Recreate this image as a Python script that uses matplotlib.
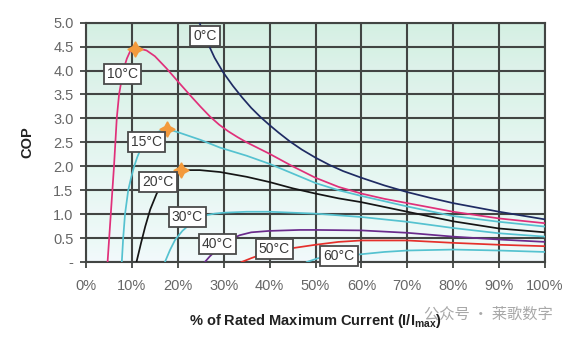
import numpy as np
import matplotlib
matplotlib.use("Agg")
import matplotlib.pyplot as plt

# ---------------- data ----------------
x_ticks = [0, 10, 20, 30, 40, 50, 60, 70, 80, 90, 100]
x_tick_labels = ["0%", "10%", "20%", "30%", "40%", "50%", "60%", "70%", "80%", "90%", "100%"]
y_ticks = [0, 0.5, 1.0, 1.5, 2.0, 2.5, 3.0, 3.5, 4.0, 4.5, 5.0]
y_tick_labels = ["-", "0.5", "1.0", "1.5", "2.0", "2.5", "3.0", "3.5", "4.0", "4.5", "5.0"]

x_0c = [24.7, 25.5, 26.6, 28, 29.9, 32, 34, 36, 38, 40, 42, 44.4, 47, 50, 53, 56, 60, 65, 70, 75, 80, 85, 90, 95, 100]
y_0c = [5.0, 4.82, 4.56, 4.27, 3.96, 3.68, 3.44, 3.22, 3.03, 2.86, 2.70, 2.52, 2.35, 2.18, 2.03, 1.90, 1.76, 1.60, 1.46, 1.34, 1.23, 1.14, 1.05, 0.97, 0.89]

x_10c = [4.7, 5.4, 6.1, 6.7, 7.2, 8.1, 8.9, 9.6, 10.7, 12.0, 13.2, 15, 17.5, 20.5, 23, 25, 27, 29, 31, 33, 35, 40, 45, 50, 55, 60, 65, 70, 80, 90, 100]
y_10c = [0, 1.0, 2.0, 3.0, 3.5, 4.0, 4.25, 4.4, 4.45, 4.45, 4.42, 4.3, 4.05, 3.72, 3.45, 3.24, 3.04, 2.87, 2.73, 2.61, 2.5, 2.26, 2.0, 1.76, 1.57, 1.43, 1.32, 1.23, 1.05, 0.91, 0.81]

x_15c = [7.8, 8.1, 8.5, 9.2, 9.8, 10.5, 11.2, 12.1, 14, 16, 17.7, 20.1, 25, 29.2, 35, 40, 45, 50, 55, 60, 65, 70, 80, 90, 100]
y_15c = [0, 0.5, 1.0, 1.5, 1.75, 2.0, 2.2, 2.4, 2.62, 2.73, 2.78, 2.71, 2.55, 2.39, 2.22, 2.05, 1.85, 1.65, 1.5, 1.38, 1.27, 1.16, 0.96, 0.84, 0.74]

x_20c = [11.0, 12.0, 12.9, 14, 15.4, 17, 19, 20.8, 24.8, 29.2, 35, 40, 45, 50, 55, 60, 65, 70, 80, 90, 100]
y_20c = [0, 0.4, 0.74, 1.1, 1.43, 1.68, 1.85, 1.92, 1.92, 1.88, 1.78, 1.67, 1.54, 1.43, 1.33, 1.25, 1.15, 1.05, 0.85, 0.70, 0.62]

x_30c = [17.2, 18.3, 19.4, 21, 23, 24.5, 26.3, 28, 30, 35, 40, 50, 60, 70, 80, 90, 100]
y_30c = [0, 0.25, 0.46, 0.65, 0.82, 0.92, 0.98, 1.01, 1.03, 1.05, 1.05, 1.01, 0.94, 0.84, 0.71, 0.60, 0.53]

x_40c = [25.9, 27, 29, 31, 33.5, 36, 40, 46.6, 50, 60, 70, 80, 90, 100]
y_40c = [0, 0.12, 0.3, 0.45, 0.56, 0.62, 0.65, 0.67, 0.67, 0.66, 0.61, 0.53, 0.47, 0.42]

x_50c = [33.9, 36, 38, 41, 45, 50, 55, 60, 70, 80, 90, 100]
y_50c = [0, 0.08, 0.15, 0.22, 0.29, 0.36, 0.42, 0.45, 0.45, 0.40, 0.36, 0.33]

x_60c = [48.1, 50.6, 53, 56, 59.7, 65, 70, 80, 90, 100]
y_60c = [0, 0.08, 0.11, 0.13, 0.16, 0.21, 0.24, 0.26, 0.24, 0.21]

curve_names = ["0°C", "10°C", "15°C", "20°C", "30°C", "40°C", "50°C", "60°C"]
label_x = [25.9, 7.95, 13.2, 15.7, 22.1, 28.6, 41.0, 55.1]
label_y = [4.73, 3.92, 2.5, 1.67, 0.94, 0.375, 0.27, 0.125]

peak_x = [10.7, 17.7, 20.8]
peak_y = [4.45, 2.78, 1.92]

# ---------------- styling ----------------
plt.rcParams['font.family'] = ['Liberation Sans', 'DejaVu Sans']
plt.rcParams['mathtext.fontset'] = 'custom'
plt.rcParams['mathtext.bf'] = 'Liberation Sans:bold'
plt.rcParams['mathtext.rm'] = 'Liberation Sans'

grid_c = "#424543"
colors = ["#1f2b63", "#e0307a", "#55c2d0", "#151515", "#55c2d0", "#6a2a8c", "#e5302b", "#55c2d0"]
series = [(x_0c, y_0c), (x_10c, y_10c), (x_15c, y_15c), (x_20c, y_20c),
          (x_30c, y_30c), (x_40c, y_40c), (x_50c, y_50c), (x_60c, y_60c)]

fig = plt.figure(figsize=(5.73, 3.37), dpi=100)
fig.patch.set_facecolor("white")
ax = fig.add_axes([86/573, 1-262/337, (545-86)/573, (262-22.7)/337])

# background gradient: pale green-cyan top -> near white bottom, each band slightly greener at its top
n = 500
t = np.linspace(0, 1, n)[:, None]          # 0 top, 1 bottom
band = (np.linspace(0, 10, n) % 1.0)[:, None]
top = np.array([214, 240, 228]) / 255
bot = np.array([240, 250, 250]) / 255
img = top * (1 - t) + bot * t               # (n, 3)
shift = np.concatenate([(band - 0.5) * 0.025, (band - 0.5) * 0.0, (band - 0.5) * 0.02], axis=1)
img = np.clip(img + shift, 0, 1)
img = np.repeat(img[:, None, :], 2, axis=1)
ax.imshow(img, extent=[0, 100, 0, 5], aspect='auto', zorder=0, interpolation='bilinear')

ax.set_xlim(0, 100)
ax.set_ylim(0, 5)

for xv in x_ticks:
    ax.axvline(xv, color=grid_c, lw=1.5, zorder=1)
for yv in y_ticks:
    ax.axhline(yv, color=grid_c, lw=1.5, zorder=1)

for (xs, ys), c in zip(series, colors):
    ax.plot(xs, ys, color=c, lw=1.25, zorder=3, solid_joinstyle='round', clip_on=True)

ax.plot(peak_x, peak_y, linestyle='none', marker=(4, 1, 0), markersize=11,
        color="#f39a3c", markeredgecolor="#f39a3c", zorder=5)

for name, lx, ly in zip(curve_names, label_x, label_y):
    ax.text(lx, ly, name, ha='center', va='center', fontsize=10, color="#3a3a3a", zorder=6,
            bbox=dict(boxstyle='square,pad=0.22', facecolor='white', edgecolor='#4a4a4a', linewidth=1.3))

for s in ax.spines.values():
    s.set_color(grid_c)
    s.set_linewidth(1.5)

ax.set_xticks(x_ticks)
ax.set_xticklabels(x_tick_labels)
ax.set_yticks(y_ticks)
ax.set_yticklabels(y_tick_labels)
ax.tick_params(axis='both', colors=grid_c, length=4, width=1.3, labelsize=10.5, labelcolor="#666666")
ax.tick_params(axis='x', pad=8)
ax.tick_params(axis='y', pad=5)

ax.set_ylabel("COP", fontsize=10.5, fontweight='bold', color="#222222")
ax.yaxis.set_label_coords(-0.112, 0.5)
ax.set_xlabel(r"% of Rated Maximum Current (I/I$_{\mathbf{max}}$)", fontsize=10.5,
              fontweight='bold', color="#222222")
ax.xaxis.set_label_coords(0.5, -0.21)

fig.text(488/573, 1-314/337, "公众号 · 莱歌数字", ha='center', va='center', fontsize=11,
         color="#a8a8a8", family=['Noto Sans CJK SC', 'DejaVu Sans'])

fig.savefig("out.png", dpi=100)
